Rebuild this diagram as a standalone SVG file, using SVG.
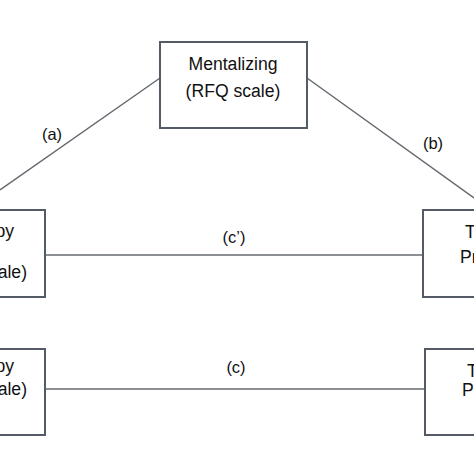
<svg xmlns="http://www.w3.org/2000/svg" width="474" height="474" viewBox="0 0 474 474">
<style>
.box{fill:#fff;stroke:#555b66;stroke-width:2}
.ln{stroke:#666a70;stroke-width:1.5;fill:none}
text{font-family:"Liberation Sans",Arial,sans-serif;font-size:17.6px;fill:#111}
.lab{font-size:16.5px}
</style>
<rect width="474" height="474" fill="#fff"/>
<g id="connectors">
<line class="ln" x1="0" y1="190" x2="160" y2="78"/>
<line class="ln" x1="307" y1="78" x2="474" y2="198"/>
<line class="ln" x1="45" y1="255" x2="423" y2="255"/>
<line class="ln" x1="45" y1="389" x2="425" y2="389"/>
<text class="lab" x="52" y="140" text-anchor="middle">(a)</text>
<text class="lab" x="433" y="149" text-anchor="middle">(b)</text>
<text class="lab" x="234" y="243" text-anchor="middle">(c’)</text>
<text class="lab" x="236" y="373" text-anchor="middle">(c)</text>
</g>
<g id="mentalizing">
<rect class="box" x="160" y="42" width="147" height="86"/>
<text x="233" y="70" text-anchor="middle">Mentalizing</text>
<text x="233" y="97" text-anchor="middle">(RFQ scale)</text>
</g>
<g id="left-mid">
<rect class="box" x="-4" y="210" width="49" height="87"/>
<text x="14" y="237" text-anchor="end">py</text>
<text x="27" y="278" text-anchor="end">ale)</text>
</g>
<g id="right-mid">
<rect class="box" x="423" y="210" width="56" height="87"/>
<text x="465" y="238">T</text>
<text x="460" y="263">Pr</text>
</g>
<g id="left-bottom">
<rect class="box" x="-4" y="349" width="49" height="86"/>
<text x="14" y="372" text-anchor="end">py</text>
<text x="27" y="395" text-anchor="end">ale)</text>
</g>
<g id="right-bottom">
<rect class="box" x="425" y="349" width="54" height="86"/>
<text x="467" y="377">T</text>
<text x="462" y="396">Pr</text>
</g>
</svg>
